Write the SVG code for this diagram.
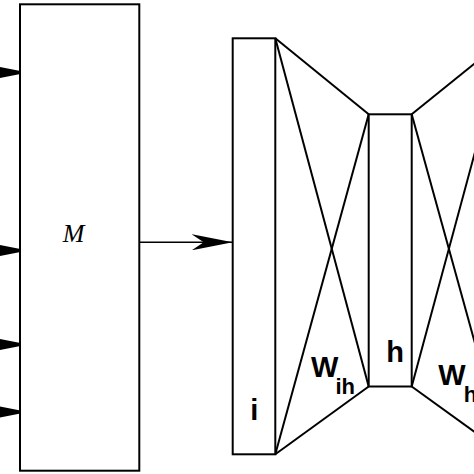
<svg xmlns="http://www.w3.org/2000/svg" width="474" height="474" viewBox="0 0 474 474">
<style>
.box{fill:#fff;stroke:#000;stroke-width:2}
.ln{stroke:#000;stroke-width:2;fill:none}
.arr{stroke:#000;stroke-width:1.5;fill:none;marker-end:url(#ah)}
.lbl{font-family:"Liberation Sans",Arial,sans-serif;font-weight:bold;font-size:29px;fill:#000}
.sub{font-size:22px}
.m{font-family:"Liberation Serif","Times New Roman",serif;font-style:italic;font-size:26px;fill:#000}
</style>
<defs>
<marker id="ah" viewBox="0 0 41 16" refX="41" refY="8" markerWidth="41" markerHeight="16" markerUnits="userSpaceOnUse" orient="auto">
<path d="M0,0 L41,8 L0,16 L12,8 Z" fill="#000"/>
</marker>
</defs>
<rect width="474" height="474" fill="#fff"/>
<g id="connectors">
<line class="arr" x1="-30" y1="72.5" x2="28" y2="72.5"/>
<line class="arr" x1="-30" y1="250.5" x2="28" y2="250.5"/>
<line class="arr" x1="-30" y1="344.5" x2="28" y2="344.5"/>
<line class="arr" x1="-30" y1="412" x2="28" y2="412"/>
<line class="arr" x1="139.5" y1="242.3" x2="232.7" y2="242.3"/>
<line class="ln" x1="275.3" y1="38.3" x2="368.7" y2="114.3"/>
<line class="ln" x1="275.3" y1="38.3" x2="368.7" y2="386.5"/>
<line class="ln" x1="275.3" y1="454.3" x2="368.7" y2="114.3"/>
<line class="ln" x1="275.3" y1="454.3" x2="368.7" y2="386.5"/>
<line class="ln" x1="411.7" y1="114.3" x2="505.7" y2="38.3"/>
<line class="ln" x1="411.7" y1="114.3" x2="505.7" y2="454.3"/>
<line class="ln" x1="411.7" y1="386.5" x2="505.7" y2="38.3"/>
<line class="ln" x1="411.7" y1="386.5" x2="505.7" y2="454.3"/>
</g>
<g id="node-M">
<rect class="box" x="20" y="4.3" width="119.3" height="466.4"/>
<text class="m" x="73.5" y="242" text-anchor="middle">M</text>
</g>
<g id="node-i">
<rect class="box" x="232.7" y="38.3" width="42.6" height="416"/>
<text class="lbl" x="254.3" y="420" text-anchor="middle">i</text>
</g>
<g id="node-h">
<rect class="box" x="368.7" y="114.3" width="43" height="272.2"/>
<text class="lbl" x="395" y="361.7" text-anchor="middle">h</text>
</g>
<g id="label-Wih">
<text class="lbl" x="311" y="377">W<tspan class="sub" dx="-3" dy="17">ih</tspan></text>
</g>
<g id="label-Who">
<text class="lbl" x="438.3" y="385">W<tspan class="sub" dx="-2" dy="17">h</tspan></text>
</g>
</svg>
